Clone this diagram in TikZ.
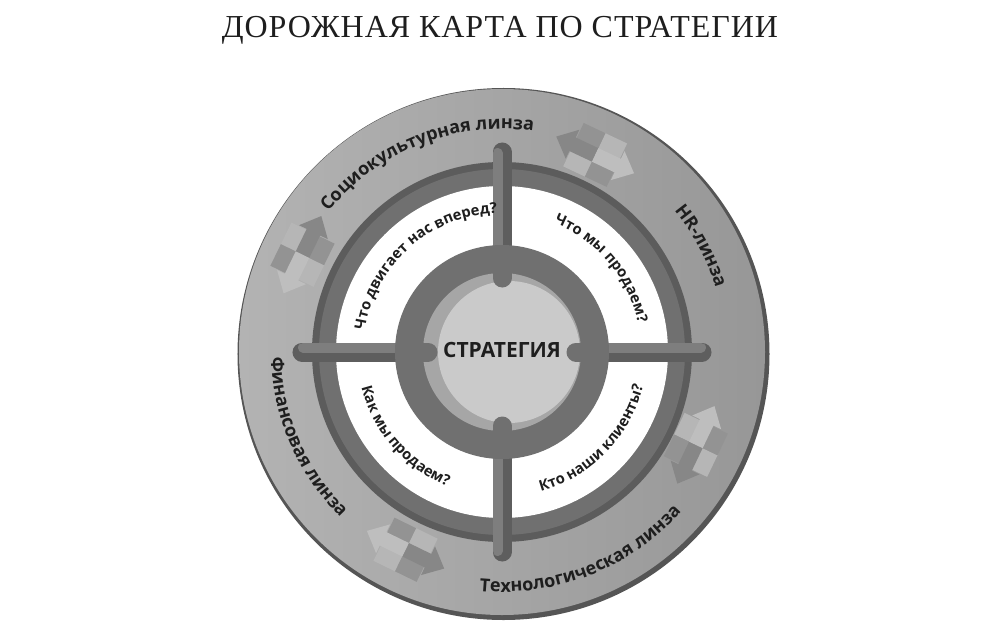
\documentclass[tikz,border=0pt]{standalone}
\usepackage{fontspec}
\setmainfont{Open Sans}
\newfontfamily\titlefont{Liberation Serif}[LetterSpace=3]
\usetikzlibrary{decorations.text}
\definecolor{edgegray}{HTML}{555555}
\definecolor{ringL}{HTML}{B3B3B3}
\definecolor{ringR}{HTML}{979797}
\definecolor{rimdark}{HTML}{5C5C5C}
\definecolor{ringdark}{HTML}{707070}
\definecolor{bardark}{HTML}{5E5E5E}
\definecolor{barlight}{HTML}{7E7E7E}
\definecolor{midgray}{HTML}{A6A6A6}
\definecolor{discgray}{HTML}{CACACA}
\definecolor{sqlight}{HTML}{B6B6B6}
\definecolor{sqdark}{HTML}{939393}
\definecolor{arrlight}{HTML}{BEBEBE}
\definecolor{arrdark}{HTML}{878787}
\definecolor{inktext}{HTML}{1E1E1E}
\newcommand\lensfont{\bfseries\fontsize{9}{11}\selectfont}
\newcommand\qfont{\bfseries\fontsize{7.4}{9}\selectfont}
\begin{document}
\begin{tikzpicture}[x=0.5pt,y=0.5pt,
  lens/.style={decorate,decoration={text along path,text align=center,text color=inktext,text={|\lensfont|#1}}},
  quest/.style={decorate,decoration={text along path,text align=center,text color=inktext,text={|\qfont|#1}}},
  bar/.style={line width=9.5pt,bardark,line cap=round},
  barhi/.style={line width=5pt,barlight,line cap=round},
  knob/.style={line width=9.5pt,ringdark,line cap=round},
  twoway/.pic={
    \fill[sqlight] (0,0) rectangle (24,24);
    \fill[sqlight] (0,0) rectangle (-24,-24);
    \fill[sqdark] (0,0) rectangle (-24,24);
    \fill[sqdark] (0,0) rectangle (24,-24);
    \fill[arrdark] (-43,0) -- (-25,16) -- (-25,7.5) -- (0,7.5) -- (0,-7.5) -- (-25,-7.5) -- (-25,-16) -- cycle;
    \fill[arrlight] (43,0) -- (25,16) -- (25,7.5) -- (0,7.5) -- (0,-7.5) -- (25,-7.5) -- (25,-16) -- cycle;
  }]
\useasboundingbox (-502,-280) rectangle (498,352);
% title
\node[font=\titlefont\fontsize{16}{18}\selectfont,text=inktext] (title) at (-2,322) {ДОРОЖНАЯ КАРТА ПО СТРАТЕГИИ};
% outer ring
\fill[edgegray] (1.5,-2) circle[radius=266];
\shade[left color=ringL,right color=ringR] (0,0) circle[radius=263];
% arrow tiles
\pic[rotate=-25.3] at (64.7:218) {twoway};
\pic[rotate=244] at (154:222) {twoway};
\pic[rotate=154] at (-116:220) {twoway};
\pic[rotate=64.4] at (-25.6:215) {twoway};
% dark ring and white field
\fill[rimdark] (0,0) circle[radius=190];
\fill[ringdark] (0,0) circle[radius=183];
\fill[white] (0,0) circle[radius=166];
% cross bars
\draw[bar] (0,-200) -- (0,200);
\draw[barhi] (-4.5,-199) -- (-4.5,199);
\draw[bar] (-200,0) -- (200,0);
\draw[barhi] (-199,4.5) -- (199,4.5);
% centre
\fill[ringdark] (0,0) circle[radius=107];
\fill[midgray] (0,0) circle[radius=79];
\fill[discgray] (7,0) circle[radius=71];
\draw[knob] (0,74) -- (0,95);
\draw[knob] (0,-74) -- (0,-95);
\draw[knob] (-74,0) -- (-95,0);
\draw[knob] (74,0) -- (95,0);
\node[font=\bfseries\fontsize{10.5}{12}\selectfont,text=inktext] (strat) at (0,2) {СТРАТЕГИЯ};
% lens labels
\path[lens={Социокультурная линза}] (156:223) arc[start angle=156,end angle=67,radius=223];
\path[lens={HR-линза}] (50:223) arc[start angle=50,end angle=6,radius=223];
\path[lens={Технологическая линза}] (250:240) arc[start angle=250,end angle=333,radius=240];
\path[lens={Финансовая линза}] (170:231) arc[start angle=170,end angle=237,radius=231];
% questions
\path[quest={Что двигает нас вперед?}] (176:139) arc[start angle=176,end angle=87,radius=139];
\path[quest={Что мы продаем?}] (85:139) arc[start angle=85,end angle=-5,radius=139];
\path[quest={Как мы продаем?}] (176:145) arc[start angle=176,end angle=266,radius=145];
\path[quest={Кто наши клиенты?}] (271:145) arc[start angle=271,end angle=361,radius=145];
\end{tikzpicture}
\end{document}
